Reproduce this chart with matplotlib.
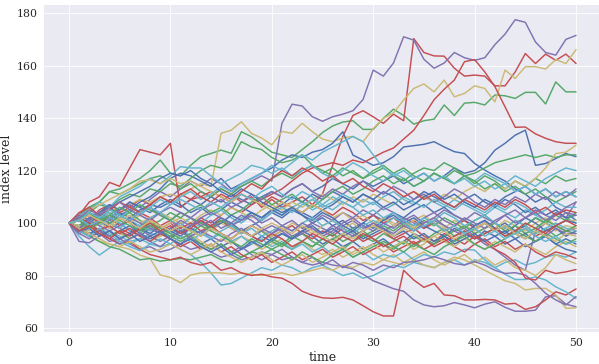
import numpy as np
import matplotlib
matplotlib.use('Agg')
import matplotlib.pyplot as plt

# Simulated index level paths, 51 time steps each
# blue paths
I = [100, 102, 100, 103, 101, 104, 102, 105, 107, 106, 108,
     106, 109, 107, 110, 108, 111, 109, 107, 110, 112,
     110, 113, 115, 112, 114, 117, 115, 113, 116, 114,
     116, 118, 115, 117, 119, 116, 118, 121, 119, 120,
     123, 127.8, 130.4, 133.5, 135.4, 122, 122.7, 124.6, 126.5, 125.3]
J = [100, 103, 101, 104, 106, 103, 105, 108, 110, 113, 117,
     119, 118, 116, 114, 117, 113, 115, 117, 119, 121,
     124, 126, 125, 127, 128, 130.4, 134.8, 125.9, 124, 122,
     123, 125.3, 129, 129.5, 130, 131, 129, 127.2, 126.5, 122.7,
     120.2, 118, 116, 113, 111, 108, 110, 106, 104, 101]
b1 = [100, 102, 99, 101, 98, 100, 97, 95, 98, 96, 94,
      97, 95, 92, 94, 91, 93, 90, 92, 95, 93,
      96, 94, 97, 95, 92, 94, 91, 93, 90, 92,
      94, 91, 93, 96, 94, 92, 95, 93, 96, 94,
      97, 95, 92, 94, 91, 93, 95, 92, 94, 92]
b2 = [100, 97, 99, 102, 100, 103, 101, 98, 96, 99, 97,
      95, 98, 96, 99, 102, 100, 97, 99, 101, 104,
      102, 105, 103, 100, 102, 99, 101, 98, 100, 103,
      101, 104, 102, 105, 107, 104, 106, 103, 101, 99,
      101, 98, 100, 97, 99, 102, 100, 98, 95, 97]
b3 = [100, 99, 102, 104, 107, 105, 108, 106, 104, 107, 109,
      107, 104, 106, 103, 105, 108, 106, 104, 102, 105,
      107, 110, 108, 111, 109, 112, 110, 108, 111, 109,
      112, 110, 107, 109, 112, 110, 108, 106, 109, 111,
      108, 106, 109, 107, 104, 106, 103, 105, 102, 103]
b4 = [100, 98, 96, 98, 95, 97, 99, 96, 94, 96, 98,
      96, 99, 101, 98, 100, 103, 101, 104, 102, 105,
      103, 106, 104, 102, 105, 107, 110, 108, 111, 109,
      106, 108, 105, 107, 110, 112, 109, 111, 108, 106,
      109, 107, 110, 112, 114, 111, 113, 110, 112, 110]
b5 = [100, 101, 104, 102, 105, 108, 110, 112, 114, 117, 119,
      118, 120, 117, 115, 112, 110, 113, 111, 108, 106,
      104, 106, 103, 101, 104, 102, 99, 97, 100, 98,
      101, 103, 100, 102, 99, 97, 95, 98, 96, 99,
      101, 98, 96, 99, 102, 100, 97, 99, 101, 100]
b6 = [100, 97, 98, 95, 97, 94, 96, 93, 95, 97, 94,
      92, 94, 91, 89, 91, 88, 90, 93, 91, 94,
      96, 94, 97, 99, 96, 98, 95, 97, 94, 96,
      98, 95, 97, 94, 96, 93, 95, 92, 94, 96,
      93, 95, 97, 94, 96, 93, 95, 92, 90, 89]

# green paths
E = [100, 103, 106, 108, 112, 113, 115, 117, 120, 124, 119,
     118, 122, 125.3, 126.5, 127.8, 126.6, 134.8, 132.9, 130, 127,
     126, 125, 128, 131, 134.5, 137, 138.5, 139, 135.7, 135.7,
     139.9, 143.4, 141, 137.7, 139, 139.6, 145, 141, 145.7, 146,
     145, 148.8, 148.5, 147.5, 149.8, 149.8, 145.4, 153.8, 150, 150]
E2 = [100, 101, 104, 107, 106, 109, 111, 110, 113, 112, 115,
      114, 117, 120, 122, 121, 124, 131, 129, 128, 125,
      123, 124, 126, 122, 119, 121, 118, 120, 117, 119,
      121, 118, 116, 119, 121, 120, 123, 121, 118, 119,
      121, 123, 124, 125, 126, 125, 126, 125, 126, 126]
g1 = [100, 97, 95, 93, 91, 90, 88, 86, 86.5, 85.5, 86,
      86.5, 86, 87, 88, 86, 85, 87, 89, 88, 90,
      92, 90, 93, 91, 94, 92, 90, 93, 95, 93,
      96, 94, 92, 95, 93, 96, 98, 95, 97, 94,
      96, 98, 95, 97, 99, 96, 98, 95, 97, 96]
g2 = [100, 103, 106, 108, 112, 111, 113, 115, 117, 118, 116,
      113, 115, 112, 110, 113, 111, 114, 116, 114, 117,
      119, 117, 120, 122, 120, 118, 121, 119, 117, 120,
      122, 119, 121, 118, 116, 119, 117, 120, 118, 115,
      118, 116, 113, 116, 114, 117, 115, 118, 116, 117]
g3 = [100, 99, 101, 103, 100, 102, 104, 101, 99, 101, 104,
      102, 105, 107, 104, 106, 103, 105, 108, 110, 107,
      109, 111, 108, 106, 109, 112, 114, 111, 113, 116,
      118, 115, 117, 114, 116, 119, 117, 115, 118, 116,
      113, 115, 112, 114, 111, 113, 110, 108, 110, 112]
g4 = [100, 98, 100, 97, 95, 97, 94, 96, 99, 97, 95,
      93, 95, 92, 90, 92, 89, 87, 89, 91, 93,
      91, 94, 96, 93, 91, 94, 96, 98, 95, 97,
      99, 97, 100, 98, 101, 99, 102, 100, 98, 101,
      103, 100, 98, 101, 99, 102, 100, 103, 101, 104]
g5 = [100, 102, 104, 101, 103, 106, 104, 107, 105, 103, 101,
      104, 102, 100, 98, 101, 99, 97, 95, 97, 94,
      92, 95, 93, 91, 94, 96, 93, 95, 97, 94,
      92, 90, 93, 91, 94, 92, 95, 97, 99, 96,
      98, 100, 97, 99, 96, 98, 101, 99, 97, 99]
g6 = [100, 101, 98, 100, 103, 101, 99, 97, 100, 98, 96,
      94, 96, 99, 97, 95, 93, 91, 94, 92, 90,
      88, 86, 89, 87, 85, 88, 90, 87, 89, 91,
      93, 91, 89, 92, 90, 88, 91, 93, 95, 92,
      90, 92, 94, 97, 95, 93, 96, 94, 92, 94]

# red paths
B = [100, 103, 101, 105, 107, 104, 106, 109, 107, 110, 108,
     111, 109, 112, 110, 113, 111, 108, 110, 106, 109,
     106, 108, 110, 107, 111, 122, 133, 141, 142.8, 140.5,
     138, 141.5, 139, 170.3, 165, 163.7, 163.6, 159, 156, 156.4,
     156, 152.3, 152.3, 157.6, 164.6, 160.8, 164.4, 162, 164.4, 160.8]
C = [100, 102, 99, 97, 100, 98, 96, 99, 101, 98, 100,
     97, 99, 102, 100, 103, 106, 104, 107, 109, 111,
     113, 116, 119, 121, 122, 123, 122, 124, 123, 125,
     127, 128.6, 132, 135.4, 141, 147, 151, 154.5, 161.5, 162.3,
     157.6, 152, 144.3, 136.5, 136.6, 134, 132.3, 131, 130.4, 130.4]
G = [100, 98, 96, 97, 94, 92, 93, 90, 88, 87, 86,
     87, 85, 84, 85, 82, 83, 81, 80, 80.5, 79.5,
     79, 77, 74, 72.5, 71.5, 71.3, 71.7, 70.7, 68.5, 66.2,
     64.6, 64.6, 82, 78.3, 75.5, 77, 72.6, 72.3, 70.7, 70.7,
     70.9, 70.7, 69.1, 69.4, 67.1, 68.1, 70.7, 73.8, 72.6, 74.9]
K = [100, 103, 108, 110, 115.5, 114, 121, 128, 127, 126, 130.4,
     106, 109, 110, 112, 110, 108, 111, 109, 107, 110,
     108, 106, 104, 107, 105, 103, 106, 104, 101, 103,
     100, 102, 99, 101, 98, 100, 97, 99, 101, 98,
     100, 97, 99, 96, 98, 95, 97, 99, 97, 98]
R = [100, 101, 103, 100, 102, 99, 101, 104, 102, 99, 101,
     98, 100, 97, 99, 101, 98, 96, 99, 97, 95,
     97, 99, 96, 94, 97, 95, 98, 96, 93, 95,
     97, 94, 96, 98, 95, 93, 96, 94, 92, 95,
     93, 90, 88, 85, 79, 78.3, 82, 80.8, 81.4, 82.3]
r1 = [100, 102, 100, 97, 99, 96, 98, 95, 93, 96, 94,
      91, 93, 90, 92, 89, 91, 88, 86, 88, 85,
      87, 89, 86, 88, 90, 87, 89, 91, 88, 90,
      92, 89, 91, 93, 90, 92, 94, 91, 89, 92,
      94, 91, 93, 90, 92, 89, 87, 89, 88, 86.5]
r2 = [100, 104, 106, 103, 105, 108, 106, 104, 107, 110, 108,
      111, 113, 110, 108, 111, 109, 112, 115, 113, 117,
      120, 118, 121, 119, 116, 118, 115, 117, 114, 112,
      115, 113, 110, 112, 109, 111, 108, 106, 109, 107,
      105, 108, 106, 109, 107, 104, 106, 103, 105, 104]
r3 = [100, 97, 99, 96, 94, 97, 95, 98, 100, 97, 99,
      96, 98, 101, 99, 96, 94, 97, 95, 93, 96,
      94, 91, 93, 96, 94, 92, 95, 93, 96, 94,
      91, 93, 95, 92, 94, 91, 93, 95, 97, 94,
      96, 98, 95, 97, 100, 98, 96, 99, 101, 99]

# purple paths
A = [100, 98, 102, 104, 101, 105, 108, 106, 109, 112, 110,
     113, 116, 114, 117, 115, 112, 114, 116, 118, 116,
     138, 145.3, 144.6, 140.5, 138.8, 140.5, 141.5, 142.8, 147.1, 158.3,
     156, 161, 171, 169.7, 162.4, 159, 161, 165, 163, 162,
     163, 168, 172, 177.5, 176.5, 169, 165, 164, 170, 171.5]
F = [100, 97, 95, 96, 93, 94, 92, 90, 91, 89, 90,
     92, 90, 91, 89, 87, 88, 86, 87, 89, 88,
     86, 87, 85, 84, 85, 84, 83.4, 82.5, 80.5, 78,
     76.5, 75, 74, 70.7, 68.8, 68.1, 68.5, 69.7, 68.8, 67.7,
     69.1, 70, 67.9, 66.4, 66.4, 66.8, 71.9, 72.3, 69.1, 68.1]
O = [100, 96, 98, 101, 99, 102, 100, 97, 99, 96, 98,
     100, 97, 95, 98, 96, 94, 97, 95, 93, 96,
     98, 95, 97, 100, 98, 96, 99, 101, 98, 100,
     97, 99, 102, 100, 98, 101, 99, 97, 98, 95,
     92, 90, 87, 84, 82, 97, 100, 104, 102, 108]
P = [100, 93, 92.5, 95, 97, 94, 96, 98, 95, 93, 95,
     97, 94, 92, 90, 92, 89, 91, 88, 86, 88,
     90, 87, 85, 87, 84, 86, 83, 85, 84, 82,
     84, 83, 85, 85.3, 86, 87.2, 86, 84.6, 84, 85.3,
     84, 82, 80.8, 81.1, 80.2, 77, 73.2, 70.7, 68.8, 72]
p1 = [100, 103, 101, 104, 102, 105, 107, 104, 106, 103, 101,
      104, 102, 105, 107, 109, 106, 108, 111, 109, 112,
      110, 113, 115, 112, 110, 113, 111, 114, 116, 113,
      111, 114, 112, 109, 111, 108, 110, 113, 111, 108,
      106, 109, 107, 110, 108, 111, 109, 112, 110, 113]
p2 = [100, 98, 101, 99, 97, 99, 102, 100, 98, 96, 98,
      101, 99, 102, 104, 102, 99, 101, 103, 100, 102,
      99, 101, 98, 100, 103, 101, 104, 102, 105, 103,
      106, 104, 101, 103, 100, 102, 105, 103, 101, 104,
      102, 100, 103, 105, 102, 104, 101, 103, 106, 108]
p3 = [100, 96, 94, 97, 95, 92, 94, 96, 93, 91, 94,
      92, 95, 97, 95, 93, 96, 98, 95, 97, 99,
      97, 94, 96, 98, 96, 99, 97, 95, 97, 100,
      98, 96, 99, 97, 100, 102, 99, 97, 95, 98,
      100, 97, 99, 96, 94, 97, 95, 98, 96, 96]
p4 = [100, 102, 105, 103, 106, 108, 105, 103, 101, 104, 106,
      104, 102, 99, 101, 98, 100, 103, 101, 98, 96,
      99, 97, 100, 98, 95, 97, 100, 102, 99, 97,
      100, 98, 101, 99, 102, 104, 101, 99, 102, 100,
      98, 101, 103, 100, 102, 105, 103, 101, 104, 103]

# yellow paths
D = [100, 101, 103, 104, 106, 105, 107, 109, 108, 110, 111,
     110, 113, 115, 114, 134.2, 135.4, 138.6, 134.2, 132.4, 129.8,
     134.9, 134.2, 138, 134.8, 132, 131, 132.5, 133, 131, 136,
     139.9, 142, 146.9, 151.3, 153, 150, 154.5, 148.1, 149.4, 152.3,
     151.3, 146.2, 158.3, 155.1, 159.6, 159.6, 158.7, 162.3, 160.8, 166.1]
H = [100, 98, 95, 93, 92, 91, 90, 87.8, 86.5, 80.2, 79.3,
     77.3, 80.2, 81, 81.1, 81, 80.5, 81, 80.5, 80, 80.5,
     81, 80, 81, 82, 83, 82, 84, 83, 85, 84,
     86, 85, 84, 86, 84, 83, 85, 87, 86, 84,
     82, 80, 78, 77, 74.5, 75.1, 75.1, 72.6, 67.5, 67.7]
Q = [100, 98, 100, 97, 99, 96, 94, 96, 93, 95, 97,
     94, 96, 93, 91, 94, 92, 95, 93, 90, 92,
     94, 91, 93, 90, 88, 90, 87, 89, 91, 88,
     86, 88, 85, 87, 89, 86, 84, 86, 88, 85,
     87, 84, 86, 83, 82, 80, 83, 88, 86, 84.5]
y1 = [100, 101, 99, 102, 104, 102, 100, 103, 101, 98, 100,
      102, 100, 103, 105, 103, 106, 104, 102, 105, 107,
      105, 108, 106, 109, 111, 109, 107, 110, 108, 111,
      109, 107, 110, 112, 110, 108, 111, 109, 112, 114,
      112, 115, 113, 116, 114, 117, 121, 126.5, 127, 129.7]
y2 = [100, 99, 97, 100, 98, 101, 103, 100, 102, 104, 102,
      100, 102, 99, 97, 100, 98, 96, 99, 97, 95,
      97, 100, 98, 96, 99, 101, 98, 100, 97, 99,
      102, 100, 98, 101, 103, 100, 98, 101, 99, 97,
      100, 98, 101, 99, 97, 100, 102, 99, 101, 101]
y3 = [100, 102, 105, 107, 109, 111, 113, 116, 116.5, 115, 117,
      115, 116, 114, 112, 110, 108, 111, 109, 107, 105,
      108, 106, 104, 107, 105, 102, 104, 101, 103, 100,
      102, 99, 101, 98, 100, 102, 99, 97, 99, 96,
      98, 100, 97, 99, 96, 98, 100, 97, 99, 98]
y4 = [100, 98, 96, 94, 92, 91, 93, 91, 89, 90, 92,
      90, 88, 90, 92, 89, 87, 85, 87, 89, 86,
      84, 86, 88, 85, 87, 89, 91, 88, 90, 92,
      89, 91, 93, 90, 92, 95, 93, 91, 94, 92,
      90, 93, 91, 89, 92, 90, 88, 91, 93, 91]
y5 = [100, 101, 103, 101, 99, 102, 100, 98, 101, 99, 97,
      99, 97, 95, 98, 96, 94, 97, 95, 98, 100,
      98, 96, 99, 97, 95, 93, 96, 94, 97, 99,
      97, 95, 98, 96, 93, 95, 97, 94, 96, 98,
      100, 97, 99, 96, 94, 97, 95, 93, 96, 95]

# cyan paths
L = [100, 98, 99, 96, 97, 95, 93, 94, 92, 91, 92,
     90, 88, 85, 81, 76.4, 77, 79, 81, 83, 82,
     84, 83, 81, 83, 84, 82, 80, 81, 79, 80,
     82, 84, 83, 85, 84, 83, 85, 86, 84, 86,
     85, 83, 85, 86, 84, 85, 87, 88, 87, 89]
M = [100, 95, 91, 87.8, 90.5, 93, 92, 94, 96, 95, 97,
     99, 97, 100, 98, 101, 99, 102, 104, 102, 105,
     103, 106, 108, 105, 107, 110, 108, 106, 109, 107,
     110, 112, 109, 107, 110, 108, 106, 109, 107, 105,
     103, 106, 104, 102, 105, 103, 101, 104, 102, 100]
N = [100, 101, 99, 102, 100, 98, 101, 99, 97, 99, 96,
     98, 95, 97, 94, 96, 93, 95, 92, 94, 91,
     93, 90, 92, 89, 91, 88, 90, 87, 89, 86,
     88, 87, 89, 86, 88, 87, 89, 88, 90, 89.7,
     86, 83, 80.5, 78.5, 78.5, 79.5, 78.3, 75.7, 73.8, 71.3]
c1 = [100, 103, 105, 108, 106, 110, 112, 114, 117, 115, 118,
      121.5, 121, 121, 118, 115, 117, 119, 122, 121, 119,
      121, 118, 120, 122, 119, 117, 120, 123, 121, 118,
      116, 119, 117, 114, 116, 119, 117, 115, 118, 116,
      119, 117, 115, 118, 116, 114, 117, 119, 121, 120]
c2 = [100, 98, 101, 99, 102, 100, 97, 99, 102, 104, 101,
      99, 102, 100, 103, 105, 102, 100, 103, 101, 104,
      106, 104, 107, 109, 106, 108, 111, 109, 106, 108,
      105, 107, 110, 108, 106, 109, 107, 105, 108, 106,
      104, 107, 105, 108, 106, 103, 105, 108, 106, 106]
c3 = [100, 102, 99, 101, 104, 102, 105, 103, 106, 109, 107,
      110, 112, 109, 111, 114, 112, 115, 117, 119, 122,
      120, 123, 126, 124, 127, 129, 131, 133, 131, 126,
      121, 118, 120, 117, 119, 116, 118, 115, 117, 114,
      116, 113, 115, 112, 114, 111, 113, 110, 112, 110]
c4 = [100, 97, 95, 98, 96, 93, 91, 89.5, 92, 94, 92,
      95, 93, 96, 94, 97, 99, 96, 98, 95, 97,
      99, 97, 100, 102, 99, 101, 98, 96, 99, 101,
      99, 102, 100, 97, 99, 101, 104, 102, 99, 101,
      103, 100, 98, 101, 99, 96, 98, 100, 98, 97]
c5 = [100, 101, 104, 102, 105, 103, 101, 104, 106, 104, 107,
      109, 107, 105, 108, 106, 109, 111, 109, 112, 114,
      111, 109, 112, 110, 107, 105, 108, 106, 103, 105,
      102, 104, 101, 99, 102, 100, 97, 99, 96, 98,
      95, 97, 94, 96, 98, 95, 93, 95, 92, 93]

# order follows the colour cycle: blue, green, red, purple, yellow, cyan
blues = [I, J, b1, b2, b3, b4, b5, b6]
greens = [E, E2, g1, g2, g3, g4, g5, g6]
reds = [B, C, G, K, R, r1, r2, r3]
purples = [A, F, O, P, p1, p2, p3, p4]
yellows = [D, H, Q, y1, y2, y3, y4, y5]
cyans = [L, M, N, c1, c2, c3, c4, c5]

paths = []
for group in zip(blues, greens, reds, purples, yellows, cyans):
    paths.extend(group)

plt.style.use('seaborn-v0_8')
plt.rcParams['font.family'] = 'serif'
plt.rcParams['xtick.labelsize'] = 13
plt.rcParams['ytick.labelsize'] = 13
plt.rcParams['axes.labelsize'] = 15

fig = plt.figure(figsize=(599 / 60, 364 / 60), dpi=60)
ax = fig.add_axes([43.6 / 599, 32.3 / 364, 557.8 / 599, 326.7 / 364])

for p in paths:
    ax.plot(np.arange(len(p)), p)

ax.set_xlim(-2.5, 52.5)
ax.set_ylim(58.6, 183.1)
ax.set_xlabel('time')
ax.set_ylabel('index level')

fig.savefig('out.png', dpi=60)
